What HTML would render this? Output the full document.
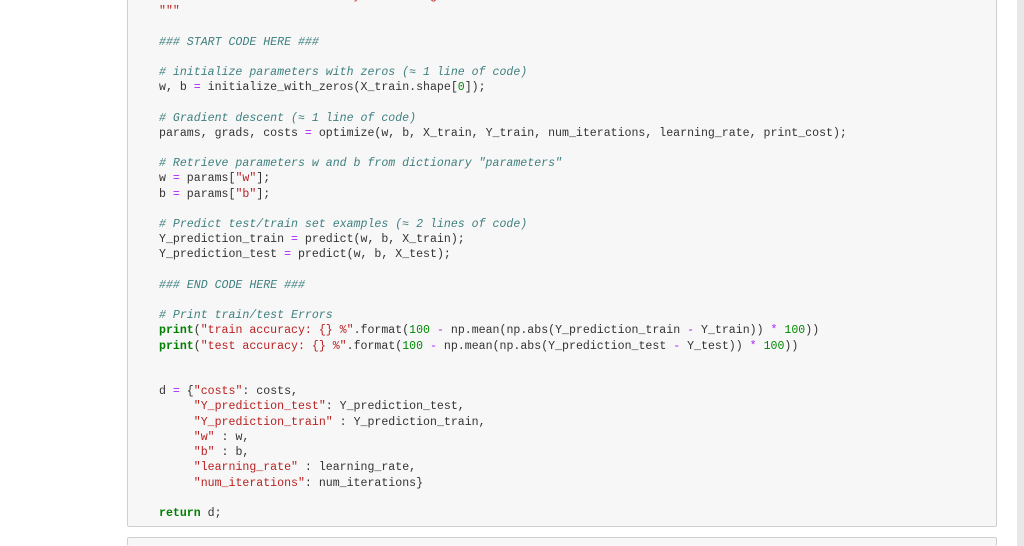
<!DOCTYPE html>
<html><head><meta charset="utf-8">
<style>
html,body{margin:0;padding:0;width:1024px;height:546px;overflow:hidden;background:#fff;}
.cell{position:absolute;left:127px;top:-10px;width:870px;height:537px;background:#f7f7f7;border:1px solid #cfcfcf;border-radius:2px;box-sizing:border-box;}
.cell2{position:absolute;left:127px;top:537px;width:870px;height:9px;background:#f7f7f7;border:1px solid #cfcfcf;border-bottom:none;border-radius:2px;box-sizing:border-box;}
.sb{position:absolute;left:1017px;top:0;width:7px;height:546px;background:#e8e8e8;}
pre{position:absolute;left:159px;top:-11px;margin:0;font-family:"Liberation Mono",monospace;font-size:11.58px;line-height:15.2px;color:#333;}
.c{color:#408080;font-style:italic}
.k{color:#008000;font-weight:bold}
.s{color:#BA2121}
.n{color:#008800}
.o{color:#AA22FF}
</style></head><body>
<div class="cell"></div>
<div class="cell2"></div>
<div class="sb"></div>
<pre><span class="s">    Returns:  d -- dictionary containing</span>
<span class="s">"""</span>

<span class="c">### START CODE HERE ###</span>

<span class="c"># initialize parameters with zeros (≈ 1 line of code)</span>
w, b <span class="o">=</span> initialize_with_zeros(X_train.shape[<span class="n">0</span>]);

<span class="c"># Gradient descent (≈ 1 line of code)</span>
params, grads, costs <span class="o">=</span> optimize(w, b, X_train, Y_train, num_iterations, learning_rate, print_cost);

<span class="c"># Retrieve parameters w and b from dictionary "parameters"</span>
w <span class="o">=</span> params[<span class="s">"w"</span>];
b <span class="o">=</span> params[<span class="s">"b"</span>];

<span class="c"># Predict test/train set examples (≈ 2 lines of code)</span>
Y_prediction_train <span class="o">=</span> predict(w, b, X_train);
Y_prediction_test <span class="o">=</span> predict(w, b, X_test);

<span class="c">### END CODE HERE ###</span>

<span class="c"># Print train/test Errors</span>
<span class="k">print</span>(<span class="s">"train accuracy: {} %"</span>.format(<span class="n">100</span> <span class="o">-</span> np.mean(np.abs(Y_prediction_train <span class="o">-</span> Y_train)) <span class="o">*</span> <span class="n">100</span>))
<span class="k">print</span>(<span class="s">"test accuracy: {} %"</span>.format(<span class="n">100</span> <span class="o">-</span> np.mean(np.abs(Y_prediction_test <span class="o">-</span> Y_test)) <span class="o">*</span> <span class="n">100</span>))


d <span class="o">=</span> {<span class="s">"costs"</span>: costs,
     <span class="s">"Y_prediction_test"</span>: Y_prediction_test,
     <span class="s">"Y_prediction_train"</span> : Y_prediction_train,
     <span class="s">"w"</span> : w,
     <span class="s">"b"</span> : b,
     <span class="s">"learning_rate"</span> : learning_rate,
     <span class="s">"num_iterations"</span>: num_iterations}

<span class="k">return</span> d;</pre>
</body></html>
